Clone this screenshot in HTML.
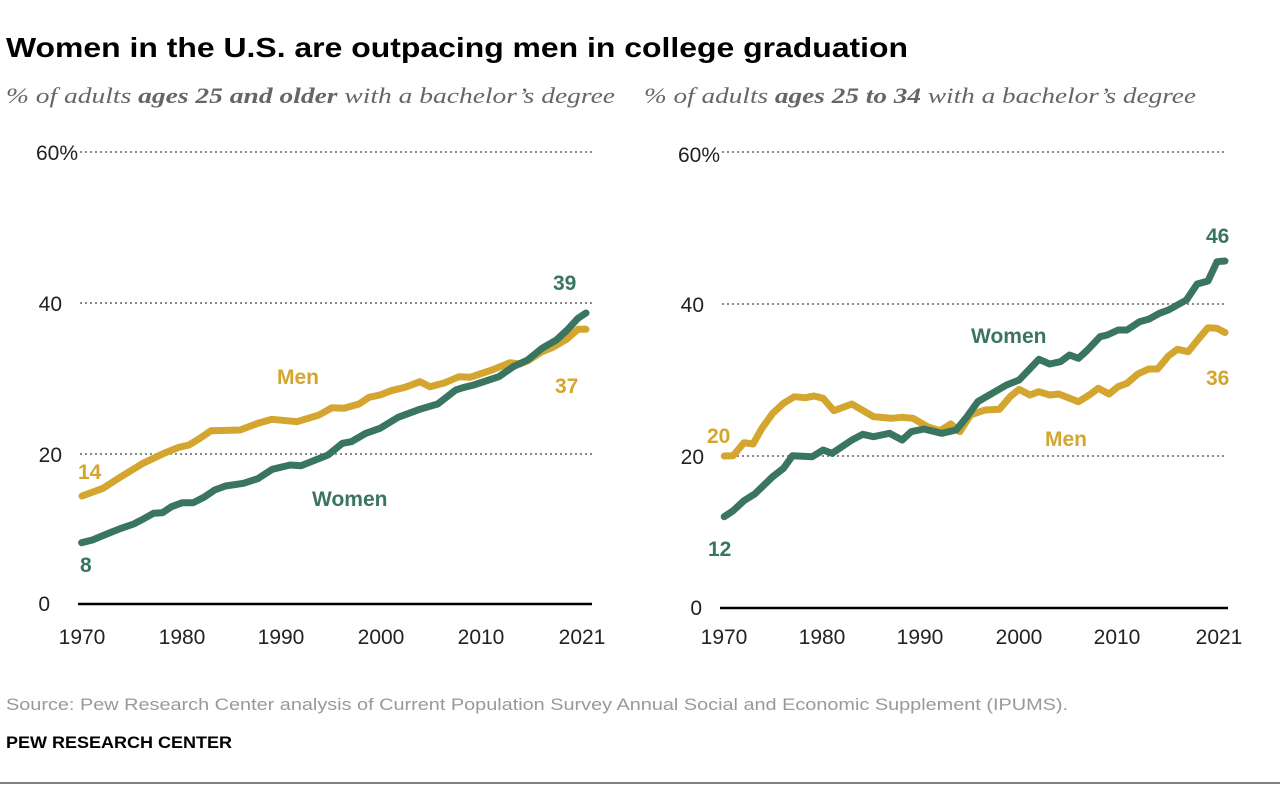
<!DOCTYPE html>
<html><head><meta charset="utf-8"><style>
body{margin:0;background:#fff;width:1280px;height:786px;overflow:hidden;font-family:"Liberation Sans",sans-serif}
</style></head><body>
<svg width="1280" height="786" xmlns="http://www.w3.org/2000/svg" font-family="Liberation Sans, sans-serif">
<text x="6" y="57" font-size="28" font-weight="bold" fill="#000" textLength="902" lengthAdjust="spacingAndGlyphs">Women in the U.S. are outpacing men in college graduation</text>
<text x="6" y="103" font-size="22" font-style="italic" fill="#666" font-family="Liberation Serif, serif" textLength="609" lengthAdjust="spacingAndGlyphs">% of adults <tspan font-weight="bold">ages 25 and older</tspan> with a bachelor’s degree</text>
<text x="644" y="103" font-size="22" font-style="italic" fill="#666" font-family="Liberation Serif, serif" textLength="552" lengthAdjust="spacingAndGlyphs">% of adults <tspan font-weight="bold">ages 25 to 34</tspan> with a bachelor’s degree</text>
<g stroke="#888" stroke-width="2" stroke-dasharray="2,3">
<line x1="80" y1="152" x2="592" y2="152"/><line x1="80" y1="303" x2="592" y2="303"/><line x1="80" y1="454" x2="592" y2="454"/>
<line x1="722" y1="152" x2="1226" y2="152"/><line x1="722" y1="304" x2="1226" y2="304"/><line x1="722" y1="456" x2="1226" y2="456"/>
</g>
<line x1="78" y1="604" x2="592" y2="604" stroke="#000" stroke-width="2.5"/>
<line x1="720" y1="608" x2="1228" y2="608" stroke="#000" stroke-width="2.5"/>
<g font-size="21" fill="#222">
<text x="78" y="160" text-anchor="end">60%</text><text x="62" y="311" text-anchor="end">40</text><text x="62" y="462" text-anchor="end">20</text><text x="50" y="611" text-anchor="end">0</text>
<text x="720" y="162" text-anchor="end">60%</text><text x="704" y="312" text-anchor="end">40</text><text x="704" y="464" text-anchor="end">20</text><text x="702" y="615" text-anchor="end">0</text>
<text x="82" y="644" text-anchor="middle">1970</text><text x="182" y="644" text-anchor="middle">1980</text><text x="281" y="644" text-anchor="middle">1990</text><text x="381" y="644" text-anchor="middle">2000</text><text x="481" y="644" text-anchor="middle">2010</text><text x="582" y="644" text-anchor="middle">2021</text>
<text x="724" y="644" text-anchor="middle">1970</text><text x="822" y="644" text-anchor="middle">1980</text><text x="920" y="644" text-anchor="middle">1990</text><text x="1019" y="644" text-anchor="middle">2000</text><text x="1117" y="644" text-anchor="middle">2010</text><text x="1219" y="644" text-anchor="middle">2021</text>
</g>
<g fill="none" stroke-width="7" stroke-linejoin="round" stroke-linecap="round">
<polyline stroke="#d4a52f" points="82,496 103,488.3 121,476.7 132,470 143,463.3 164,453.3 179,447.3 189,445 200,438.3 211,430.7 240,430 258,423.3 272,419.3 297,421.7 319,415 332,407.7 344,408.3 359,404 369,397.3 380,395 391,390.7 405,387.3 420,381.7 430,386.7 445,382.7 459,376.7 470,377.3 492,370 510,362.7 520,364 528,360.7 542,351.7 553,347.3 567,339 578,329.3 586,329.3"/>
<polyline stroke="#3a7561" points="81.6,542.7 92.4,540 106.8,534 121.2,528.3 133.7,524 142.7,519.3 153.5,513.3 162.5,512.7 171.5,506.7 182.3,502.7 193.1,502.7 203.9,497.3 214.7,490 225.5,486 243.5,483.3 257.8,478.7 272.2,469.3 290.2,465 301,465.7 315.4,460 328,455 342.4,443.3 351.4,441.7 365.8,433.3 380.1,428.3 398.1,417.3 419.7,409.3 437.7,404 455.7,390 462.9,387.7 473.7,385 498.8,376.7 513.2,366.7 527.6,360 542,348.3 556.4,340 567.2,330 578,318.3 586,313"/>
<polyline stroke="#d4a52f" points="724.2,456 733.2,455.7 744,442.7 753,444 761.9,428.3 772.7,413.3 783.5,403.3 794.3,396.7 805.1,397.7 814.1,396 823.1,398.3 833.9,410.7 851.9,404 873.5,416.7 891.4,418.3 902.2,417.3 913,418.3 927.4,426.7 940,430.7 950.8,424 959.8,431.7 970.6,415 985,410 999.4,409.3 1010.1,396.7 1019.1,389.3 1029.9,395 1038.9,391.7 1049.7,395 1058.7,394 1078.5,401.7 1089.3,395 1098.3,388.3 1109.1,394 1118.1,386.7 1127,383.3 1137.8,374 1148.6,369 1157.6,369 1168.4,356 1177.4,349.3 1188.2,351.7 1199,338.3 1208,327.7 1217,328.3 1225,332.5"/>
<polyline stroke="#3a7561" points="724.2,516.7 733.2,510.7 744,500.7 754.7,494 772.7,476.7 783.5,468.3 792.5,455.7 812.3,456.7 823.1,450 832.1,453.3 851.9,440 862.7,434.3 873.5,436.7 889.6,433.3 902.2,440 911.2,431.7 923.8,429 941.8,433.3 956.2,430 967,416.7 977.8,401.7 992.2,393.3 1006.5,385 1019.1,380 1038.9,359.3 1049.7,364 1060.5,361.7 1069.5,355 1078.5,358.3 1087.5,350 1100.1,336.7 1107.3,335 1118.1,330 1127,330 1139.6,321.7 1148.6,319.3 1159.4,313.3 1168.4,310 1186.4,300 1197.2,284 1208,281 1217,261.7 1225,261"/>
</g>
<g font-size="21" font-weight="bold">
<text x="78" y="479" fill="#d4a52f">14</text><text x="80" y="572" fill="#3a7561">8</text>
<text x="277" y="384" fill="#d4a52f">Men</text><text x="312" y="506" fill="#3a7561">Women</text>
<text x="553" y="290" fill="#3a7561">39</text><text x="555" y="393" fill="#d4a52f">37</text>
<text x="707" y="443" fill="#d4a52f">20</text><text x="708" y="556" fill="#3a7561">12</text>
<text x="971" y="343" fill="#3a7561">Women</text><text x="1045" y="446" fill="#d4a52f">Men</text>
<text x="1206" y="243" fill="#3a7561">46</text><text x="1206" y="385" fill="#d4a52f">36</text>
</g>
<text x="6" y="710" font-size="17" fill="#999" textLength="1062" lengthAdjust="spacingAndGlyphs">Source: Pew Research Center analysis of Current Population Survey Annual Social and Economic Supplement (IPUMS).</text>
<text x="6" y="748" font-size="17" font-weight="bold" fill="#000" textLength="226" lengthAdjust="spacingAndGlyphs">PEW RESEARCH CENTER</text>
<line x1="0" y1="783" x2="1280" y2="783" stroke="#000" stroke-width="1"/>
</svg>
</body></html>
